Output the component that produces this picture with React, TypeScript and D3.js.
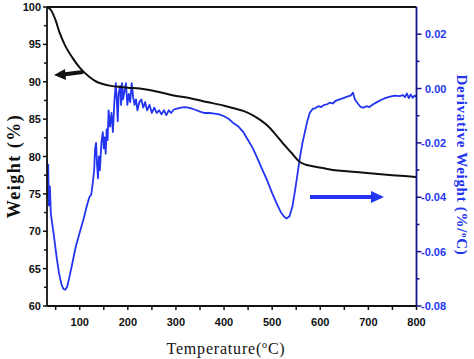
import React from "react";
import * as d3 from "d3";

const weightData: [number, number][] = [
  [32, 100], [40, 99.6], [50, 98.2], [58, 96.6], [70, 94.8], [85, 93.2], [100, 91.9], [121, 90.6],
  [135, 90], [148, 89.7], [165, 89.45], [183, 89.3], [200, 89.2], [225, 89.1], [260, 88.7],
  [293, 88.2], [330, 87.8], [364, 87.3], [400, 86.8], [418, 86.5], [440, 86.1], [460, 85.5],
  [475, 84.9], [489, 84.2], [505, 83.1], [522, 81.8], [540, 80.5], [557, 79.3], [570, 78.9],
  [584, 78.7], [605, 78.45], [626, 78.2], [660, 78], [697, 77.8], [750, 77.5], [792, 77.3], [800, 77.25],
];

const derivData: [number, number][] = [
  [32, -0.026], [33, -0.04], [34.5, -0.028], [36, -0.043], [38, -0.036], [40, -0.046], [43, -0.05],
  [47, -0.055], [52, -0.062], [57, -0.068], [62, -0.072], [66, -0.0737], [70, -0.074], [74, -0.0728],
  [79, -0.069], [85, -0.064], [92, -0.058], [100, -0.053], [108, -0.048], [115, -0.043], [120, -0.04],
  [124, -0.039], [127, -0.035], [130, -0.03], [132, -0.022], [134, -0.02], [136, -0.028], [138, -0.033],
  [140, -0.025], [142, -0.03], [145, -0.02], [148, -0.016], [150, -0.022], [152, -0.018], [154, -0.024],
  [156, -0.015], [158, -0.019], [160, -0.008], [163, -0.014], [166, -0.009], [169, -0.016], [172, -0.005],
  [175, 0.002], [177, -0.004], [179, -0.012], [181, -0.002], [184, 0.001], [186, -0.006], [188, 0.002],
  [190, -0.004], [193, -0.001], [196, 0.002], [199, -0.006], [202, -0.002], [205, -0.005], [208, 0.002],
  [211, -0.003], [214, -0.006], [217, -0.004], [220, -0.008], [224, -0.005], [228, -0.004], [232, -0.007],
  [236, -0.005], [240, -0.008], [245, -0.006], [250, -0.009], [255, -0.007], [260, -0.009], [265, -0.008],
  [270, -0.0095], [275, -0.008], [280, -0.0098], [285, -0.008], [290, -0.009], [295, -0.0078], [300, -0.0075],
  [310, -0.007], [320, -0.0068], [330, -0.0072], [340, -0.0078], [350, -0.0085], [360, -0.009], [370, -0.009],
  [380, -0.0092], [390, -0.0095], [400, -0.0102], [410, -0.0112], [420, -0.0128], [430, -0.014], [440, -0.016],
  [450, -0.019], [460, -0.022], [470, -0.026], [480, -0.03], [490, -0.034], [500, -0.0385], [510, -0.0425],
  [518, -0.0455], [525, -0.0472], [530, -0.0478], [536, -0.047], [542, -0.0435], [548, -0.037], [553, -0.031],
  [558, -0.025], [563, -0.02], [568, -0.016], [573, -0.012], [578, -0.009], [584, -0.0075], [590, -0.0072],
  [596, -0.0065], [602, -0.0068], [608, -0.006], [614, -0.0058], [620, -0.0052], [626, -0.0055], [632, -0.0045],
  [640, -0.004], [648, -0.0035], [656, -0.003], [664, -0.0025], [668, -0.0015], [672, -0.004], [678, -0.0055],
  [684, -0.0068], [690, -0.007], [696, -0.0065], [702, -0.0068], [710, -0.0058], [718, -0.005], [726, -0.0042],
  [735, -0.0035], [745, -0.003], [755, -0.0026], [765, -0.0028], [772, -0.0024], [776, -0.0032], [780, -0.0018],
  [784, -0.0035], [788, -0.0022], [792, -0.0034], [796, -0.0026], [800, -0.003],
];

const xTickLabels = [100, 200, 300, 400, 500, 600, 700, 800];
const xMinorTicks = d3.range(50, 801, 50);
const leftTickLabels = [60, 65, 70, 75, 80, 85, 90, 95, 100];
const leftMinorTicks = d3.range(62.5, 100, 5);
const rightTickLabels = [-0.08, -0.06, -0.04, -0.02, 0.0, 0.02];
const rightMinorTicks = [-0.07, -0.05, -0.03, -0.01, 0.01];

const W = 474, H = 359;
const L = 47, R = 416.5, T = 7, B = 306;
const BLUE = "#2335f0";
const NAVY = "#15158a";

export default function App() {
  const x = d3.scaleLinear().domain([32, 800]).range([L, R]);
  const yW = d3.scaleLinear().domain([60, 100]).range([B, T]);
  const yD = d3.scaleLinear().domain([-0.08, 0.03]).range([B, T]);

  const wLine = d3.line<[number, number]>().x(d => x(d[0])).y(d => yW(d[1])).curve(d3.curveMonotoneX)(weightData) || "";
  const dLine = d3.line<[number, number]>().x(d => x(d[0])).y(d => yD(d[1]))(derivData) || "";

  const tickFont = "'Liberation Sans', Arial, sans-serif";
  const serif = "'Liberation Serif', 'Times New Roman', serif";

  return (
    <svg width={W} height={H} style={{ position: "absolute", left: 0, top: 0 }}>
      <rect x={0} y={0} width={W} height={H} fill="#fff" />
      <defs>
        <clipPath id="plot">
          <rect x={L} y={T} width={R - L} height={B - T} />
        </clipPath>
      </defs>
      <g clipPath="url(#plot)">
        <path d={dLine} fill="none" stroke={BLUE} strokeWidth={1.8} strokeLinejoin="round" />
        <path d={wLine} fill="none" stroke="#111" strokeWidth={2} />
      </g>
      {/* arrows */}
      <line x1={83} y1={72} x2={63} y2={74.5} stroke="#111" strokeWidth={4} />
      <path d="M54,75 L65,69 L66,80 Z" fill="#111" />
      <line x1={310} y1={197} x2={373} y2={197} stroke={BLUE} strokeWidth={4} />
      <path d="M384,197 L371,191 L371,203 Z" fill={BLUE} />

      {/* frame */}
      <line x1={L} y1={T} x2={R} y2={T} stroke="#111" strokeWidth={1.8} />
      <line x1={L} y1={T} x2={L} y2={B} stroke="#111" strokeWidth={1.8} />
      <line x1={L} y1={B} x2={R} y2={B} stroke="#111" strokeWidth={1.8} />
      <line x1={R} y1={T} x2={R} y2={B} stroke={NAVY} strokeWidth={1.8} />

      {/* bottom ticks */}
      {xMinorTicks.map(v => (
        <line key={"xm" + v} x1={x(v)} x2={x(v)} y1={B} y2={B + 4} stroke="#111" strokeWidth={1.5} />
      ))}
      {xTickLabels.map(v => (
        <text key={"xl" + v} x={x(v)} y={326} textAnchor="middle" fontFamily={tickFont} fontWeight="bold" fontSize={11} fill="#111">{v}</text>
      ))}
      {/* left ticks */}
      {leftTickLabels.map(v => (
        <g key={"yl" + v}>
          <line x1={L - 4} x2={L} y1={yW(v)} y2={yW(v)} stroke="#111" strokeWidth={1.5} />
          <text x={41} y={yW(v) + 4} textAnchor="end" fontFamily={tickFont} fontWeight="bold" fontSize={11} fill="#111">{v}</text>
        </g>
      ))}
      {leftMinorTicks.map(v => (
        <line key={"ym" + v} x1={L - 3} x2={L} y1={yW(v)} y2={yW(v)} stroke="#111" strokeWidth={1.5} />
      ))}
      {/* right ticks */}
      {rightTickLabels.map(v => (
        <g key={"rl" + v}>
          <line x1={R} x2={R + 5} y1={yD(v)} y2={yD(v)} stroke={NAVY} strokeWidth={1.5} />
          <text x={v < 0 ? 421 : 425} y={yD(v) + 4} textAnchor="start" fontFamily={tickFont} fontWeight="bold" fontSize={11} fill={BLUE}>{(v === 0 ? "0.00" : v.toFixed(2))}</text>
        </g>
      ))}
      {rightMinorTicks.map(v => (
        <line key={"rm" + v} x1={R} x2={R + 3} y1={yD(v)} y2={yD(v)} stroke={NAVY} strokeWidth={1.5} />
      ))}

      {/* titles */}
      <text transform={`translate(20,166) rotate(-90)`} textAnchor="middle" fontFamily={serif} fontWeight="bold" fontSize={18} letterSpacing={1.5} fill="#111">Weight (%)</text>
      <text x={226} y={354} textAnchor="middle" fontFamily={serif} fontSize={16} letterSpacing={0.8} fill="#111">Temperature(<tspan fontSize={10} dy={-6}>o</tspan><tspan dy={6}>C)</tspan></text>
      <text transform={`translate(457,165) rotate(90)`} textAnchor="middle" fontFamily={serif} fontWeight="bold" fontSize={15} letterSpacing={0.7} fill={BLUE}>Derivative Weight (%/<tspan fontSize={9} dy={-5}>o</tspan><tspan dy={5}>C)</tspan></text>
    </svg>
  );
}
